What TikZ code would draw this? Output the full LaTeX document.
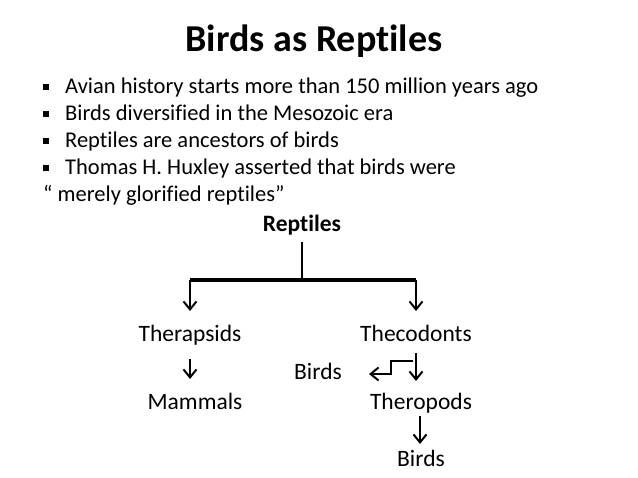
\documentclass[tikz,border=0pt]{standalone}
\usepackage{fontspec}
\setmainfont{Carlito}[Ligatures=NoCommon]
\usetikzlibrary{arrows.meta}
\begin{document}
\begin{tikzpicture}[x=1pt,y=-1pt,
  title/.style={font=\fontsize{38}{44}\selectfont\bfseries, inner sep=0pt, anchor=base},
  bul/.style={font=\fontsize{22.5}{26}\selectfont, inner sep=0pt, anchor=base west},
  tree/.style={font=\fontsize{23.5}{28}\selectfont, inner sep=0pt, anchor=base},
  arr/.style={line width=2pt, -{Straight Barb[length=8pt,width=13pt,line width=2pt]}},
  bar/.style={line width=3.2pt},
  stem/.style={line width=1.7pt},
  bulletsq/.style={fill=black}]
\useasboundingbox[fill=white] (0,0) rectangle (638,478);

\node[title] (t) at (314,52) {Birds as Reptiles};

\node[bul] (l1) at (65,94) {Avian history starts more than 150 million years ago};
\node[bul] (l2) at (65,121) {Birds diversified in the Mesozoic era};
\node[bul] (l3) at (65,148) {Reptiles are ancestors of birds};
\node[bul] (l4) at (65,175) {Thomas H. Huxley asserted that birds were};
\node[bul] (l5) at (43,202) {“ merely glorified reptiles”};
\foreach \yy in {94,121,148,175}
  \fill[bulletsq] (43,\yy-10) rectangle (49,\yy-4);

\node[tree,font=\fontsize{23.5}{28}\selectfont\bfseries] (rep) at (302,232) {Reptiles};
\coordinate (top) at (302,280);
\coordinate (lb) at (190,280);
\coordinate (rb) at (416,280);

\node[tree] (ther) at (190,342) {Therapsids};
\node[tree] (thec) at (416,342) {Thecodonts};
\node[tree] (mam) at (195,410) {Mammals};
\node[tree] (bm) at (318,380) {Birds};
\node[tree] (thp) at (421,410) {Theropods};
\node[tree] (bb) at (421,467) {Birds};

\draw[stem] ([yshift=-6pt]rep.south) -- (top);
\draw[bar] (lb) -- (rb);
\draw[arr] (lb) -- (190,311) coordinate (lbt);
\draw[arr] (rb) -- (416,311) coordinate (rbt);
\draw[arr] (190,359) -- (190,379);
\draw[arr] (416,353) -- (416,381);
\draw[arr] (413,361) -- (391,361) -- (391,374) -- (369,374);
\draw[arr] (420,416) -- (420,444);
\end{tikzpicture}
\end{document}
